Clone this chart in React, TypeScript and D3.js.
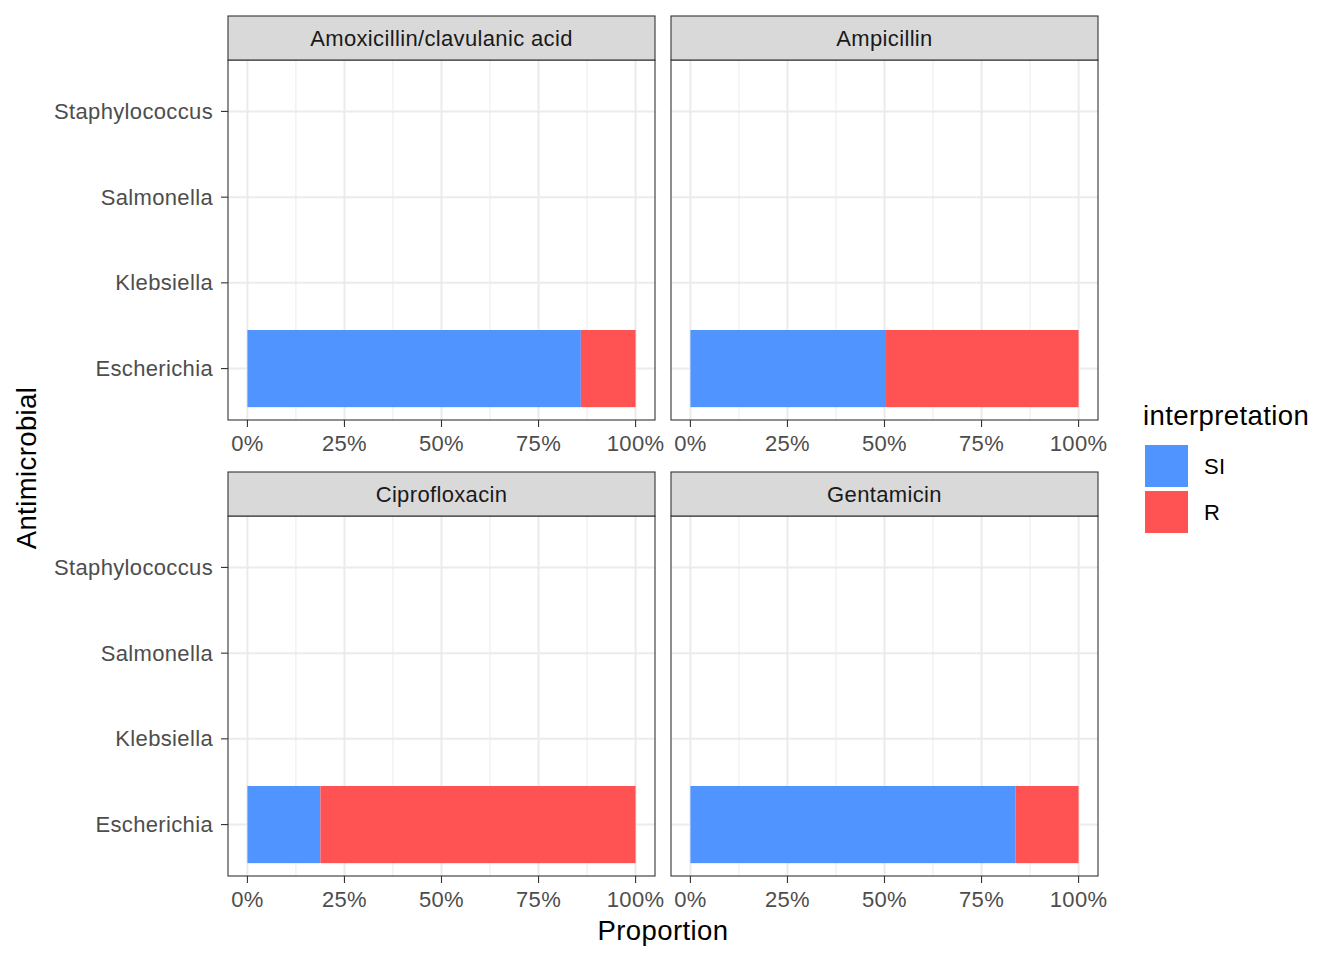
import { useEffect, useRef } from 'react';
import * as d3 from 'd3';

// Facets (antimicrobials) and genera on the y axis
const antimicrobials = ['Amoxicillin/clavulanic acid', 'Ampicillin', 'Ciprofloxacin', 'Gentamicin'];
const genera = ['Escherichia', 'Klebsiella', 'Salmonella', 'Staphylococcus'];
const interpretations = ['SI', 'R'];
const interpretationColors = ['#5094FF', '#FF5252'];

// Proportions per antimicrobial, only Escherichia has data
const barGenus = ['Escherichia', 'Escherichia', 'Escherichia', 'Escherichia'];
const siValues = [0.859, 0.504, 0.188, 0.838];
const rValues = [0.141, 0.496, 0.812, 0.162];

const xTicks = [0, 0.25, 0.5, 0.75, 1];
const xMinor = [0.125, 0.375, 0.625, 0.875];

export default function App() {
  const svgRef = useRef<SVGSVGElement>(null);

  useEffect(() => {
    document.body.style.margin = '0';
    if (!svgRef.current) return;
    const svg = d3.select(svgRef.current);
    svg.selectAll('*').remove();

    const width = 1344;
    const height = 960;
    svg.attr('width', width).attr('height', height);
    svg.append('rect').attr('width', width).attr('height', height).attr('fill', '#fff');

    const font = 'Liberation Sans, Arial, Helvetica, sans-serif';
    const colX = [228, 671];
    const rowY = [60, 516];
    const panelW = 427;
    const panelH = 360;
    const stripH = 44;
    const small = '22px';
    const smallSpacing = '0.35px';
    const big = '27.5px';
    const bigSpacing = '0.4px';

    const xScale = d3.scaleLinear().domain([-0.05, 1.05]).range([0, panelW]);
    // discrete axis expansion 0.6 units each side
    const yScale = d3.scalePoint<string>().domain(genera).range([panelH, 0]).padding(0.6);

    antimicrobials.forEach((am, i) => {
      const col = i % 2;
      const row = Math.floor(i / 2);
      const g = svg.append('g').attr('transform', `translate(${colX[col]},${rowY[row]})`);

      // grid: minor
      xMinor.forEach((t) => {
        g.append('line')
          .attr('x1', xScale(t)).attr('x2', xScale(t))
          .attr('y1', 0).attr('y2', panelH)
          .attr('stroke', '#EBEBEB').attr('stroke-width', 1);
      });
      // grid: major
      xTicks.forEach((t) => {
        g.append('line')
          .attr('x1', xScale(t)).attr('x2', xScale(t))
          .attr('y1', 0).attr('y2', panelH)
          .attr('stroke', '#EBEBEB').attr('stroke-width', 2);
      });
      genera.forEach((gn) => {
        g.append('line')
          .attr('x1', 0).attr('x2', panelW)
          .attr('y1', yScale(gn)!).attr('y2', yScale(gn)!)
          .attr('stroke', '#EBEBEB').attr('stroke-width', 2);
      });

      // bars
      const bw = yScale.step() * 0.9;
      const yc = yScale(barGenus[i])!;
      const vals = [siValues[i], rValues[i]];
      let acc = 0;
      vals.forEach((v, k) => {
        g.append('rect')
          .attr('x', xScale(acc))
          .attr('y', yc - bw / 2)
          .attr('width', xScale(acc + v) - xScale(acc))
          .attr('height', bw)
          .attr('fill', interpretationColors[k]);
        acc += v;
      });

      // panel border
      g.append('rect')
        .attr('x', 0).attr('y', 0).attr('width', panelW).attr('height', panelH)
        .attr('fill', 'none').attr('stroke', '#333333').attr('stroke-width', 1.1);

      // strip
      g.append('rect')
        .attr('x', 0).attr('y', -stripH).attr('width', panelW).attr('height', stripH)
        .attr('fill', '#D9D9D9').attr('stroke', '#333333').attr('stroke-width', 1.1);
      g.append('text')
        .attr('x', panelW / 2).attr('y', -stripH / 2)
        .attr('text-anchor', 'middle').attr('dominant-baseline', 'central')
        .attr('fill', '#1A1A1A').attr('font-size', small).attr('letter-spacing', smallSpacing)
        .attr('font-family', font)
        .text(am);

      // x axis ticks
      xTicks.forEach((t) => {
        g.append('line')
          .attr('x1', xScale(t)).attr('x2', xScale(t))
          .attr('y1', panelH).attr('y2', panelH + 7)
          .attr('stroke', '#333333').attr('stroke-width', 1.1);
        g.append('text')
          .attr('x', xScale(t)).attr('y', panelH + 31)
          .attr('text-anchor', 'middle')
          .attr('fill', '#4D4D4D').attr('font-size', small).attr('letter-spacing', smallSpacing)
          .attr('font-family', font)
          .text(d3.format('.0%')(t));
      });

      // y axis ticks only on left column
      if (col === 0) {
        genera.forEach((gn) => {
          g.append('line')
            .attr('x1', -7).attr('x2', 0)
            .attr('y1', yScale(gn)!).attr('y2', yScale(gn)!)
            .attr('stroke', '#333333').attr('stroke-width', 1.1);
          g.append('text')
            .attr('x', -15).attr('y', yScale(gn)!)
            .attr('text-anchor', 'end').attr('dominant-baseline', 'central')
            .attr('fill', '#4D4D4D').attr('font-size', small).attr('letter-spacing', smallSpacing)
            .attr('font-family', font)
            .text(gn);
        });
      }
    });

    // axis titles
    svg.append('text')
      .attr('x', (colX[0] + colX[1] + panelW) / 2).attr('y', 940)
      .attr('text-anchor', 'middle')
      .attr('fill', '#000').attr('font-size', big).attr('letter-spacing', bigSpacing)
      .attr('font-family', font)
      .text('Proportion');
    svg.append('text')
      .attr('transform', `translate(36,${(rowY[0] + rowY[1] + panelH) / 2}) rotate(-90)`)
      .attr('text-anchor', 'middle')
      .attr('fill', '#000').attr('font-size', big).attr('letter-spacing', bigSpacing)
      .attr('font-family', font)
      .text('Antimicrobial');

    // legend
    const lg = svg.append('g').attr('transform', 'translate(1145,0)');
    lg.append('text')
      .attr('x', -2).attr('y', 425)
      .attr('fill', '#000').attr('font-size', big).attr('letter-spacing', bigSpacing)
      .attr('font-family', font)
      .text('interpretation');
    interpretations.forEach((lab, k) => {
      lg.append('rect')
        .attr('x', 0).attr('y', 445 + k * 46).attr('width', 43).attr('height', 42)
        .attr('fill', interpretationColors[k]);
      lg.append('text')
        .attr('x', 59).attr('y', 445 + k * 46 + 21)
        .attr('dominant-baseline', 'central')
        .attr('fill', '#000').attr('font-size', small).attr('letter-spacing', smallSpacing)
        .attr('font-family', font)
        .text(lab);
    });
  }, []);

  return <svg ref={svgRef} style={{ display: 'block' }} />;
}
